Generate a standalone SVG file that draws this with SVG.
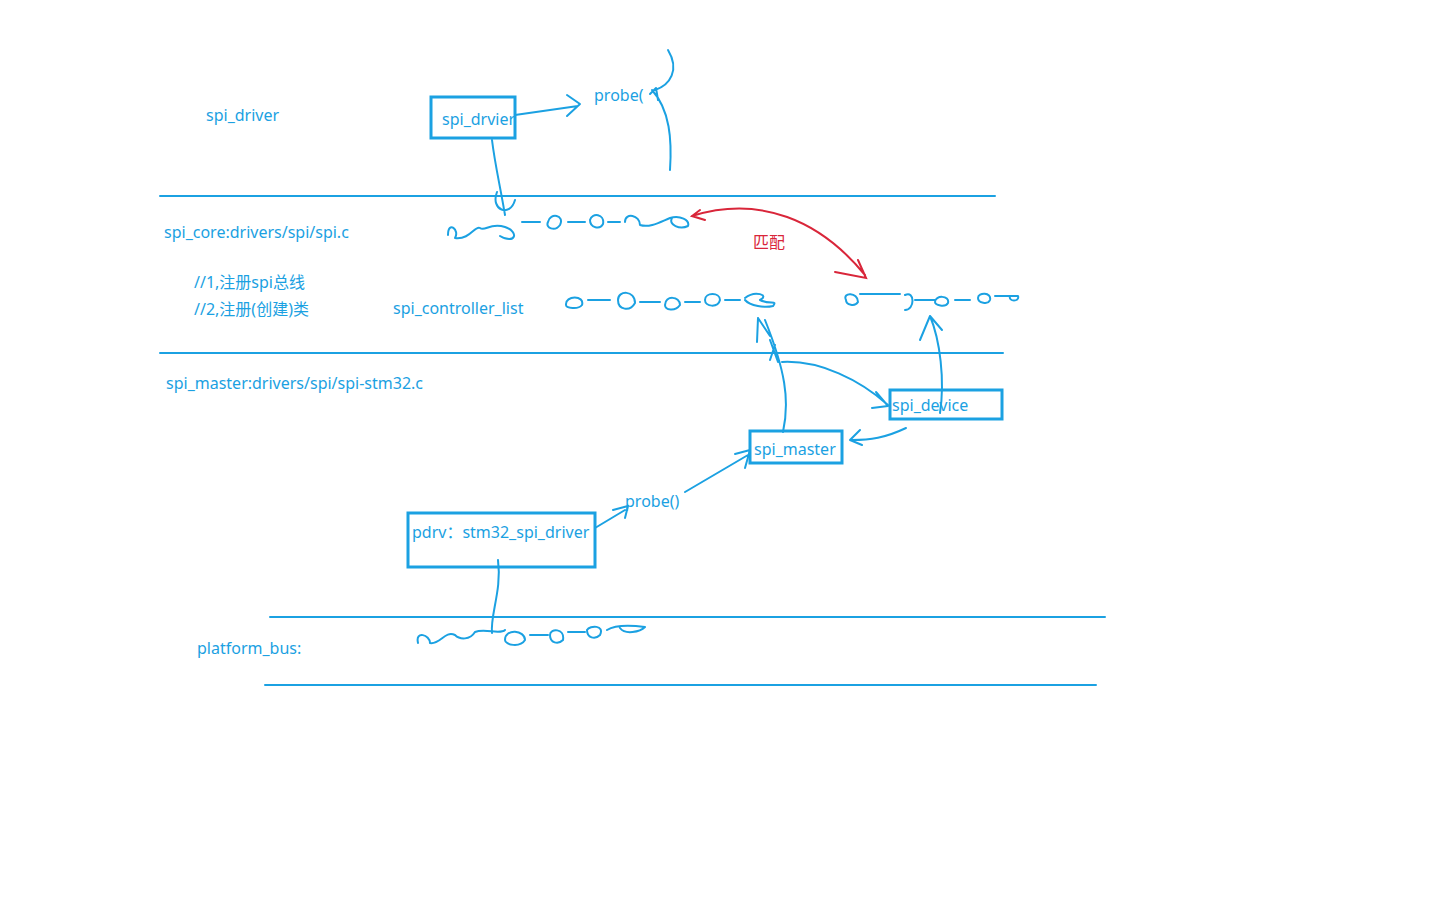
<svg xmlns="http://www.w3.org/2000/svg" width="1440" height="900" viewBox="0 0 1440 900">
<style>
text{font-family:"Microsoft YaHei","Noto Sans","Noto Sans CJK SC",sans-serif;font-size:16px;fill:#1ba1e2}
.s{fill:none;stroke:#1ba1e2;stroke-width:2;stroke-linecap:round;stroke-linejoin:round}
.box{fill:none;stroke:#1ba1e2;stroke-width:3}
.r{fill:none;stroke:#d9263a;stroke-width:2;stroke-linecap:round}
</style>
<rect width="1440" height="900" fill="#fff"/>
<g id="labels">
<text x="206" y="121">spi_driver</text>
<text x="164" y="238">spi_core:drivers/spi/spi.c</text>
<text x="194" y="288" font-size="15">//1,注册spi总线</text>
<text x="194" y="315" font-size="15">//2,注册(创建)类</text>
<text x="393" y="314">spi_controller_list</text>
<text x="166" y="389">spi_master:drivers/spi/spi-stm32.c</text>
<text x="197" y="654">platform_bus:</text>
<text x="594" y="101">probe(</text>
<text x="625" y="507">probe()</text>
<text x="753" y="248" font-size="13" style="fill:#d9263a">匹配</text>
</g>
<g id="spi_drvier"><rect class="box" x="431" y="97" width="84" height="41"/><text x="442" y="125">spi_drvier</text></g>
<g id="spi_device"><rect class="box" x="890" y="390" width="112" height="29"/><text x="892" y="411">spi_device</text></g>
<g id="spi_master"><rect class="box" x="750" y="431" width="92" height="32"/><text x="754" y="455">spi_master</text></g>
<g id="pdrv"><rect class="box" x="408" y="513" width="187" height="54"/><text x="412" y="538">pdrv：stm32_spi_driver</text></g>
<g id="connectors">
<path class="s" d="M160 196H995M160 353H1003M270 617H1105M265 685H1096" stroke-width="2.5"/>
<path class="s" d="M515 115L578 106M567 95L580 104L567 116"/>
<path class="s" d="M668 50C680 70 670 85 655 90M652 90C670 110 672 140 670 170M650 94L656 88L658 100"/>
<path class="s" d="M492 140C495 165 500 185 505 215M497 192C490 210 510 218 515 200"/>
<path class="s" d="M448 235C448 220 460 230 455 238C470 240 475 225 480 228C485 232 490 222 505 227C520 232 515 245 500 236M522 222H540M548 222C550 212 565 215 560 225C555 232 545 228 548 222M568 222H585M590 220C592 212 605 214 603 224C600 230 590 228 590 220M608 222H620M625 222C625 212 640 215 640 225C650 228 660 222 670 218C680 215 690 220 688 226C680 230 668 225 672 218"/>
<path class="r" d="M692 216C760 195 820 220 865 275M700 210L692 216L705 220M835 272L866 278L858 260"/>
<path class="s" d="M566 305C565 295 585 295 582 305C578 310 566 308 566 305M588 300H610M618 300C618 290 635 290 635 303C630 312 618 310 618 300M640 302H660M665 305C665 295 680 296 680 305C675 312 665 310 665 305M685 302H700M705 300C705 292 720 292 720 300C718 308 705 307 705 300M725 300H740M745 298C755 290 770 295 760 300C770 305 778 300 773 306C765 308 750 306 745 300"/>
<path class="s" d="M846 300C842 292 858 292 858 302C855 307 846 305 846 300M860 294H900M905 295C915 290 915 310 905 310M915 300H935M935 302C935 295 950 295 948 303C945 308 935 305 935 302M955 300H970M978 298C978 292 992 292 990 300C988 305 978 303 978 298M995 296H1018C1020 302 1008 302 1010 296"/>
<path class="s" d="M783 432C790 400 785 370 765 320M758 318L757 342M758 318L770 336M775 345L770 360M770 340L778 362"/>
<path class="s" d="M782 362C820 360 860 380 888 405M876 392L888 406L872 408"/>
<path class="s" d="M940 413C945 380 940 340 930 316M920 340L930 316L942 330"/>
<path class="s" d="M906 428C885 438 870 440 852 440M860 430L850 440L862 445"/>
<path class="s" d="M685 492L748 455M735 454L750 450L745 468"/>
<path class="s" d="M595 528L625 510M613 510L628 506L625 518"/>
<path class="s" d="M498 560C502 590 490 615 492 633"/>
<path class="s" d="M418 643C415 630 430 635 430 643C440 645 445 630 455 635C460 640 470 640 475 632C485 628 500 635 505 630M505 640C505 628 525 630 525 640C520 648 505 645 505 640M530 635H548M550 635C550 628 565 628 563 640C558 645 550 643 550 635M568 632H585M587 630C590 625 605 625 600 635C595 640 587 638 587 630M607 630C615 625 630 625 645 627C640 632 625 635 620 628"/>
</g>
</svg>
